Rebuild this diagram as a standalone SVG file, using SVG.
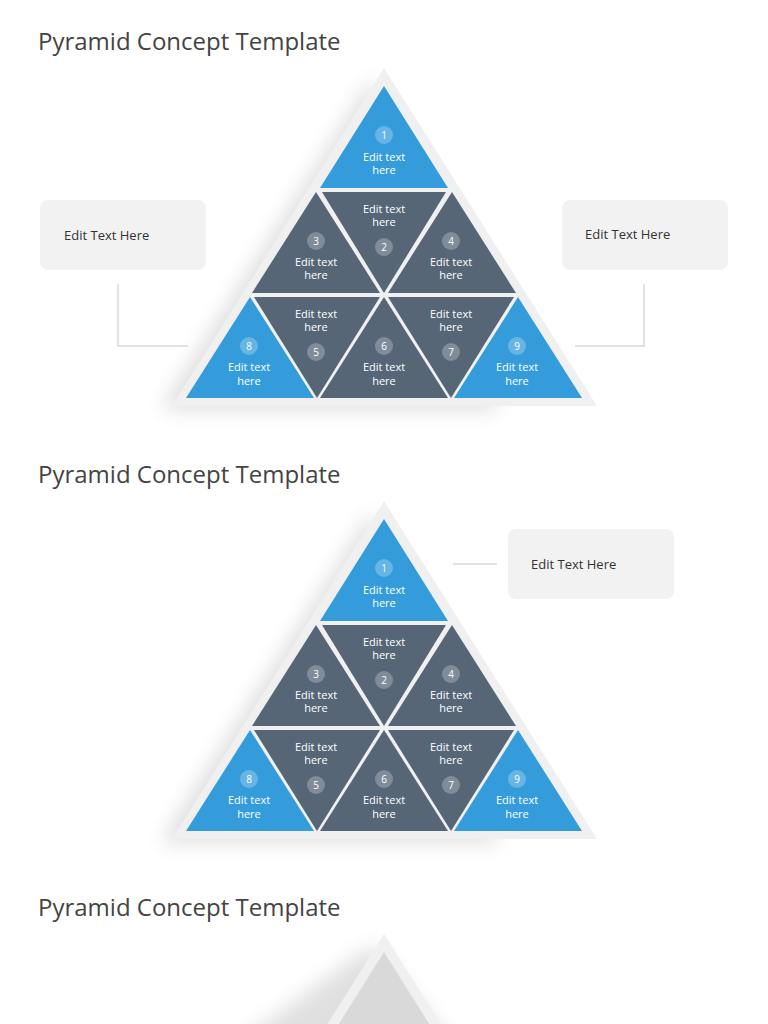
<svg xmlns="http://www.w3.org/2000/svg" width="768" height="1024" viewBox="0 0 768 1024">
<style>
.title{font-family:"Open Sans","Liberation Sans",sans-serif;font-size:24px;fill:#444}
.t{font-family:"Open Sans","Liberation Sans",sans-serif;font-size:11px;fill:#fff;text-anchor:middle}
.n{font-family:"Open Sans","Liberation Sans",sans-serif;font-size:10px;fill:#fff;text-anchor:middle}
.box{fill:#f2f2f2}
.bt{font-family:"Open Sans","Liberation Sans",sans-serif;font-size:13px;fill:#333}
.blue{fill:#349cdb}
.dark{fill:#566677}
.c{fill:#fff;fill-opacity:0.25}
.ln{stroke:#d9d9d9;stroke-width:1.5;fill:none}
</style>
<defs>
<filter id="sh" x="-30%" y="-30%" width="160%" height="160%"><feGaussianBlur stdDeviation="10"/></filter>
<g id="pyr">
<polygon points="372,78 160,410 500,410" fill="#000" opacity="0.12" filter="url(#sh)"/>
<polygon points="384,68 172,406 597,406" fill="#f0f0f0"/>
<polygon class="blue" points="384,86 320,188 448,188"/>
<polygon class="dark" points="316,192 252,293 380,293"/>
<polygon class="dark" points="322,192 446,192 384,293"/>
<polygon class="dark" points="452,192 388,293 516,293"/>
<polygon class="blue" points="250,297 186,398 314,398"/>
<polygon class="dark" points="254,297 380,297 317,398"/>
<polygon class="dark" points="384,297 320,398 448,398"/>
<polygon class="dark" points="388,297 514,297 451,398"/>
<polygon class="blue" points="518,297 454,398 582,398"/>
<g><circle class="c" cx="384" cy="135" r="9"/><text class="n" x="384" y="139">1</text><text class="t" x="384" y="161">Edit text</text><text class="t" x="384" y="174">here</text></g>
<g><text class="t" x="384" y="213">Edit text</text><text class="t" x="384" y="226">here</text><circle class="c" cx="384" cy="247" r="9"/><text class="n" x="384" y="251">2</text></g>
<g><circle class="c" cx="316" cy="241" r="9"/><text class="n" x="316" y="245">3</text><text class="t" x="316" y="266">Edit text</text><text class="t" x="316" y="279">here</text></g>
<g><circle class="c" cx="451" cy="241" r="9"/><text class="n" x="451" y="245">4</text><text class="t" x="451" y="266">Edit text</text><text class="t" x="451" y="279">here</text></g>
<g><text class="t" x="316" y="318">Edit text</text><text class="t" x="316" y="331">here</text><circle class="c" cx="316" cy="352" r="9"/><text class="n" x="316" y="356">5</text></g>
<g><circle class="c" cx="384" cy="346" r="9"/><text class="n" x="384" y="350">6</text><text class="t" x="384" y="371">Edit text</text><text class="t" x="384" y="385">here</text></g>
<g><text class="t" x="451" y="318">Edit text</text><text class="t" x="451" y="331">here</text><circle class="c" cx="451" cy="352" r="9"/><text class="n" x="451" y="356">7</text></g>
<g><circle class="c" cx="249" cy="346" r="9"/><text class="n" x="249" y="350">8</text><text class="t" x="249" y="371">Edit text</text><text class="t" x="249" y="385">here</text></g>
<g><circle class="c" cx="517" cy="346" r="9"/><text class="n" x="517" y="350">9</text><text class="t" x="517" y="371">Edit text</text><text class="t" x="517" y="385">here</text></g>
</g>
</defs>
<rect width="768" height="1024" fill="#fff"/>
<text class="title" x="38" y="50">Pyramid Concept Template</text>
<text class="title" x="38" y="483">Pyramid Concept Template</text>
<text class="title" x="38" y="916">Pyramid Concept Template</text>
<g id="pyramid1"><use href="#pyr"/></g>
<g id="pyramid2"><use href="#pyr" y="433"/></g>
<g id="pyramid3">
<polygon points="372,945 160,1100 500,1100" fill="#000" opacity="0.12" filter="url(#sh)"/>
<polygon points="384,934 172,1272 597,1272" fill="#f0f0f0"/>
<polygon points="384,952 320,1054 448,1054" fill="#d9d9d9"/>
</g>
<g id="box1"><rect class="box" x="40" y="200" width="166" height="70" rx="8"/><text class="bt" x="64" y="240">Edit Text Here</text></g>
<g id="box2"><rect class="box" x="562" y="200" width="166" height="70" rx="8"/><text class="bt" x="585" y="239">Edit Text Here</text></g>
<g id="box3"><rect class="box" x="508" y="529" width="166" height="70" rx="8"/><text class="bt" x="531" y="569">Edit Text Here</text></g>
<g id="connectors">
<polyline class="ln" points="118,284 118,346 188,346"/>
<polyline class="ln" points="644,284 644,346 575,346"/>
<line class="ln" x1="453" y1="564" x2="497" y2="564"/>
</g>
</svg>
